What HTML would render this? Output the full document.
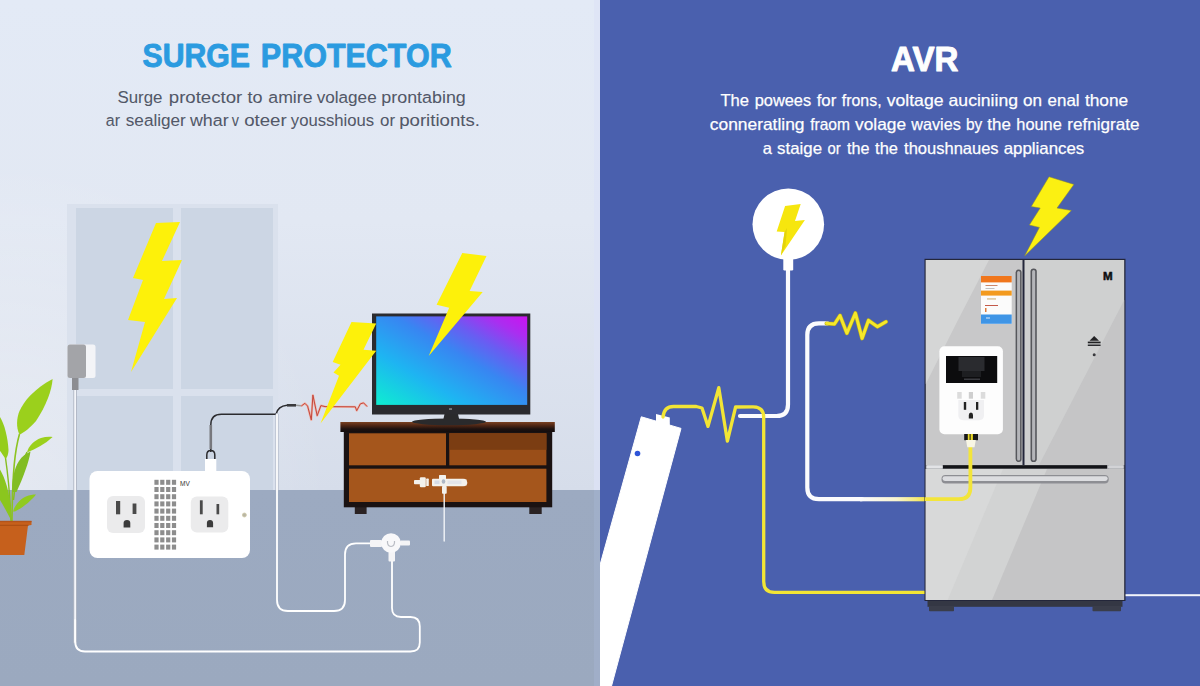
<!DOCTYPE html>
<html lang="en">
<head>
<meta charset="utf-8">
<title>Surge Protector vs AVR</title>
<style>
html,body{margin:0;padding:0;background:#e3e9f3;}
body{width:1200px;height:686px;overflow:hidden;font-family:"Liberation Sans",sans-serif;}
svg{display:block;}
.t{font-family:"Liberation Sans",sans-serif;}
</style>
</head>
<body>
<svg width="1200" height="686" viewBox="0 0 1200 686">
<defs>
  <linearGradient id="wall" x1="0" y1="0" x2="0" y2="1">
    <stop offset="0" stop-color="#e3eaf6"/>
    <stop offset="0.45" stop-color="#e2e8f3"/>
    <stop offset="1" stop-color="#d6ddea"/>
  </linearGradient>
  <linearGradient id="floor" x1="0" y1="0" x2="0" y2="1">
    <stop offset="0" stop-color="#9caac1"/>
    <stop offset="1" stop-color="#9ba9bf"/>
  </linearGradient>
  <linearGradient id="tv" x1="0" y1="1" x2="1" y2="0">
    <stop offset="0" stop-color="#0eeed0"/>
    <stop offset="0.3" stop-color="#1eb4f2"/>
    <stop offset="0.56" stop-color="#3886f2"/>
    <stop offset="0.72" stop-color="#6a5cf2"/>
    <stop offset="0.87" stop-color="#aa2ef0"/>
    <stop offset="1" stop-color="#cc12f0"/>
  </linearGradient>
  <linearGradient id="cabtop" x1="0" y1="0" x2="0" y2="1">
    <stop offset="0" stop-color="#7a4122"/>
    <stop offset="0.35" stop-color="#4e2615"/>
    <stop offset="0.7" stop-color="#1e1210"/>
    <stop offset="1" stop-color="#140d0d"/>
  </linearGradient>
  <linearGradient id="cab2y" x1="860" y1="0" x2="926" y2="0" gradientUnits="userSpaceOnUse">
    <stop offset="0" stop-color="#fbfbfd"/>
    <stop offset="0.55" stop-color="#f8f4cf"/>
    <stop offset="0.85" stop-color="#f5ea7a"/>
    <stop offset="1" stop-color="#f3e53a"/>
  </linearGradient>
  <linearGradient id="steel" x1="0" y1="0" x2="1" y2="0">
    <stop offset="0" stop-color="#c4c4c6"/>
    <stop offset="0.5" stop-color="#bdbdbf"/>
    <stop offset="1" stop-color="#b4b4b7"/>
  </linearGradient>
  <linearGradient id="steelL" x1="0" y1="0" x2="1" y2="0">
    <stop offset="0" stop-color="#c9c9cc"/>
    <stop offset="1" stop-color="#cbcbce"/>
  </linearGradient>
  <linearGradient id="steelR" x1="0" y1="0" x2="1" y2="0">
    <stop offset="0" stop-color="#cdcdd0"/>
    <stop offset="1" stop-color="#c9c9cc"/>
  </linearGradient>
  <linearGradient id="steelB" x1="0" y1="0" x2="1" y2="0">
    <stop offset="0" stop-color="#d2d2d4"/>
    <stop offset="0.5" stop-color="#cccccf"/>
    <stop offset="1" stop-color="#c3c3c6"/>
  </linearGradient>
  <radialGradient id="wallL" cx="0" cy="490" r="330" gradientUnits="userSpaceOnUse">
    <stop offset="0" stop-color="#ffffff" stop-opacity="0.34"/>
    <stop offset="0.35" stop-color="#ffffff" stop-opacity="0.26"/>
    <stop offset="1" stop-color="#ffffff" stop-opacity="0"/>
  </radialGradient>
  <clipPath id="rclip"><rect x="600" y="0" width="600" height="686"/></clipPath>
</defs>

<!-- LEFT PANEL -->
<g id="left">
  <rect x="0" y="0" width="600" height="491" fill="url(#wall)"/>
  <rect x="0" y="0" width="600" height="491" fill="url(#wallL)"/>
  <rect x="0" y="490" width="600" height="196" fill="url(#floor)"/>
  <rect x="594" y="0" width="6" height="490" fill="#dde3f6" opacity="0.700"/>
  <rect x="594" y="490" width="6" height="196" fill="#a3b0cc" opacity="0.700"/>
  <!-- window -->
  <g id="window">
    <rect x="67" y="204" width="211" height="286" fill="#dae1ed"/>
    <rect x="76" y="208" width="97" height="181" fill="#ccd6e4"/>
    <rect x="181" y="208" width="92" height="181" fill="#ccd6e4"/>
    <rect x="76" y="396" width="97" height="94" fill="#ccd6e4"/>
    <rect x="181" y="396" width="92" height="94" fill="#ccd6e4"/>
  </g>

  <!-- bolt 1 -->
  <polygon points="156,223 180,222 162,261 182,260 164,299 177,298 131,372 145,322 128,320 143,280 133,278" fill="#fdf10a"/>
  <!-- adapter -->
  <g id="adapter">
    <rect x="73.8" y="388" width="2.6" height="255" fill="#f4f6fa" stroke="#a9b0bd" stroke-width="0.8"/>
    <rect x="67.5" y="344.5" width="28" height="33.5" rx="2.5" fill="#f3f4f7"/>
    <rect x="67.5" y="344.5" width="18.5" height="33.5" rx="2.5" fill="#a3a4a8"/>
    <rect x="72" y="378" width="6.5" height="12" fill="#8c8d92"/>
  </g>
  <!-- plant -->
  <g id="plant">
    <path d="M19.500,434 C15,450 12.500,470 12,521" stroke="#8dc321" stroke-width="1.600" fill="none"/>
    <path d="M27,452 C20,465 15,480 13.500,500" stroke="#86bd20" stroke-width="1.400" fill="none"/>
    <path d="M5.500,458 C8,475 10,495 11,521" stroke="#86bd20" stroke-width="1.400" fill="none"/>
    <path d="M0,417 C4.500,424 8,438 8.500,450 C8.500,454 7,458 5.500,459 C3,455 1,452 0,451 Z" fill="#95cd1c"/>
    <path d="M52.600,379 C52,390 46,406 36,421 C30,428 24,432.500 19.500,434.500 C16,428 16.500,418 19.500,411 C24,401 34,389 52.600,379 Z" fill="#9bd01c"/>
    <path d="M52.600,437 C45,444 36,449 27,452.500 C28.500,446 34,440.500 41,438 C45,436.800 49,436.500 52.600,437 Z" fill="#9bd01c"/>
    <path d="M30.500,451.600 C29,462 23,478 16.500,492 L12.500,492 C11.500,482 14,468 19,461 C22,456.500 26,453.500 30.500,451.600 Z" fill="#82bd22"/>
    <path d="M0,469.500 C5,478 9.500,492 11,509 L11,520 C7,512 3,505 0,500 Z" fill="#8bc61e"/>
    <path d="M36,494.500 C31,501 23,507.500 15,511.500 L13,511.500 C15,505 20,499 26,496.500 C29.500,495 33,494.500 36,494.500 Z" fill="#90ca20"/>
    <path d="M0,521 L31.500,521 L31.500,525 L28,525.500 L24.300,555 L0,555 Z" fill="#c6601c"/>
    <rect x="0" y="520.800" width="31.500" height="1.400" fill="#b4541a"/>
    <rect x="0" y="524.800" width="28.500" height="1" fill="#a84c12"/>
  </g>
  <!-- dark cable from strip -->
  <g id="darkcable" fill="none">
    <path d="M210.800,452 L210.800,425 Q210.800,414.300 221.500,414.300 L276,414.300 Q278,406 287,405.300 L296,405.300" stroke="#2b2b2e" stroke-width="1.500"/>
    <path d="M210.800,425 L210.800,449" stroke="#77787d" stroke-width="2.600"/>
    <path d="M287,405.300 L296,405.300" stroke="#3a3a3d" stroke-width="2.600"/>
    <path d="M296,405.300 L301,405.800" stroke="#9a9a9a" stroke-width="1.500"/>
    <path d="M206.800,459 L206.800,455 Q206.800,450.500 210.800,450.500 Q214.800,450.500 214.800,455 L214.800,459" stroke="#2b2b2e" stroke-width="1.500"/>
  </g>
  <!-- red zigzag -->
  <polyline points="301.2,406.1 304.9,403.3 307.6,406.1 311.3,419.9 312.9,395.1 317.2,415.7 320.9,405.6 325,406.6 355.3,406.8 356.7,410.7 360.4,403.8 363.6,402.9 367.2,406.6" fill="none" stroke="#f2a897" stroke-width="2.200" stroke-linejoin="round" opacity="0.800"/>
  <polyline points="301.2,406.1 304.9,403.3 307.6,406.1 311.3,419.9 312.9,395.1 317.2,415.7 320.9,405.6 325,406.6 355.3,406.8 356.7,410.7 360.4,403.8 363.6,402.9 367.2,406.6" fill="none" stroke="#c4473c" stroke-width="1" stroke-linejoin="round"/>
  <!-- power strip -->
  <g id="strip">
    <rect x="205" y="459" width="11.300" height="14" fill="#ffffff"/>
    <rect x="89.500" y="471" width="160.500" height="87" rx="8" fill="#ffffff"/>
    <rect x="107" y="496" width="38" height="37" rx="6" fill="#ebebec"/>
    <rect x="190.800" y="496.500" width="37.500" height="36" rx="6" fill="#ebebec"/>
    <rect x="116" y="501" width="4.200" height="13.300" fill="#4a4a4a"/>
    <rect x="132.600" y="503.500" width="3.800" height="10.500" fill="#4a4a4a"/>
    <path d="M123.600,527.600 L123.600,523 Q123.600,520 127,520 Q130.300,520 130.300,523 L130.300,527.600 Z" fill="#3c3c3c"/>
    <rect x="199.900" y="500.300" width="2.800" height="14" fill="#4a4a4a"/>
    <rect x="216.500" y="504" width="2.700" height="10.300" fill="#4a4a4a"/>
    <path d="M206.900,527.200 L206.900,523 Q206.900,520 210,520 Q213.100,520 213.100,523 L213.100,527.200 Z" fill="#3c3c3c"/>
    <g fill="#8d8d8d">
      <rect x="154.4" y="479.8" width="4.2" height="5"/>
      <rect x="160.2" y="479.8" width="4.2" height="5"/>
      <rect x="166.1" y="479.8" width="4.2" height="5"/>
      <rect x="171.9" y="479.8" width="4.2" height="5"/>
      <rect x="154.4" y="487.0" width="4.2" height="5"/>
      <rect x="160.2" y="487.0" width="4.2" height="5"/>
      <rect x="166.1" y="487.0" width="4.2" height="5"/>
      <rect x="171.9" y="487.0" width="4.2" height="5"/>
      <rect x="154.4" y="494.2" width="4.2" height="5"/>
      <rect x="160.2" y="494.2" width="4.2" height="5"/>
      <rect x="166.1" y="494.2" width="4.2" height="5"/>
      <rect x="171.9" y="494.2" width="4.2" height="5"/>
      <rect x="154.4" y="501.4" width="4.2" height="5"/>
      <rect x="160.2" y="501.4" width="4.2" height="5"/>
      <rect x="166.1" y="501.4" width="4.2" height="5"/>
      <rect x="171.9" y="501.4" width="4.2" height="5"/>
      <rect x="154.4" y="508.6" width="4.2" height="5"/>
      <rect x="160.2" y="508.6" width="4.2" height="5"/>
      <rect x="166.1" y="508.6" width="4.2" height="5"/>
      <rect x="171.9" y="508.6" width="4.2" height="5"/>
      <rect x="154.4" y="515.8" width="4.2" height="5"/>
      <rect x="160.2" y="515.8" width="4.2" height="5"/>
      <rect x="166.1" y="515.8" width="4.2" height="5"/>
      <rect x="171.9" y="515.8" width="4.2" height="5"/>
      <rect x="154.4" y="523.0" width="4.2" height="5"/>
      <rect x="160.2" y="523.0" width="4.2" height="5"/>
      <rect x="166.1" y="523.0" width="4.2" height="5"/>
      <rect x="171.9" y="523.0" width="4.2" height="5"/>
      <rect x="154.4" y="530.2" width="4.2" height="5"/>
      <rect x="160.2" y="530.2" width="4.2" height="5"/>
      <rect x="166.1" y="530.2" width="4.2" height="5"/>
      <rect x="171.9" y="530.2" width="4.2" height="5"/>
      <rect x="154.4" y="537.4" width="4.2" height="5"/>
      <rect x="160.2" y="537.4" width="4.2" height="5"/>
      <rect x="166.1" y="537.4" width="4.2" height="5"/>
      <rect x="171.9" y="537.4" width="4.2" height="5"/>
      <rect x="154.4" y="544.6" width="4.2" height="5"/>
      <rect x="160.2" y="544.6" width="4.2" height="5"/>
      <rect x="166.1" y="544.6" width="4.2" height="5"/>
      <rect x="171.9" y="544.6" width="4.2" height="5"/>
    </g>
    <text x="180" y="485.600" font-size="6.500" fill="#333" class="t" textLength="9.800" lengthAdjust="spacingAndGlyphs">MV</text>
    <circle cx="244.400" cy="515" r="2" fill="#b9b6a5" stroke="#cfc9a8" stroke-width="0.800"/>
  </g>
  <!-- cabinet -->
  <g id="cabinet">
    <rect x="354.800" y="506" width="11.800" height="8" fill="#2a2223"/>
    <rect x="529.300" y="506" width="12.400" height="8" fill="#2a2223"/>
    <rect x="343.800" y="430" width="208.400" height="77.300" fill="#1a1212"/>
    <rect x="340.400" y="422" width="214.400" height="10" fill="url(#cabtop)"/>
    <rect x="349" y="433.300" width="97" height="32" fill="#a5561c"/>
    <rect x="449.300" y="433.300" width="97.100" height="32" fill="#9a4e18"/>
    <rect x="449.300" y="433.300" width="97.100" height="16.500" fill="#7b3d12"/>
    <rect x="349" y="468.700" width="197.400" height="33.300" fill="#a5561c"/>
    <!-- handle -->
    <g fill="#f3f1ec">
      <rect x="414" y="480" width="7" height="4.200" rx="0.800"/>
      <rect x="419.800" y="477.300" width="6" height="10" rx="1.200"/>
      <rect x="426.200" y="478.600" width="2.600" height="7.400" rx="0.600"/>
      <rect x="432" y="478.700" width="32.500" height="7.600" rx="1"/>
      <path d="M464,478.700 L466.500,479.500 Q468,482.500 466.500,485.500 L464,486.300 Z"/>
      <rect x="439" y="475" width="7" height="5" rx="0.600"/>
      <rect x="442" y="486" width="4.700" height="7.800" rx="0.800"/>
    </g>
    <ellipse cx="443.500" cy="481.500" rx="1.800" ry="2.300" fill="#aeb8c6"/>
    <rect x="434.500" y="480.500" width="5" height="3.600" fill="#d5dbe6"/>
    <rect x="447.500" y="480.500" width="14" height="3.600" fill="#e3e5ea"/>
  </g>
  <!-- TV -->
  <g id="tvset">
    <ellipse cx="449" cy="421.800" rx="37" ry="3.400" fill="#2a2a2c"/>
    <path d="M444.500,414 L458,414 L459.500,421 L443,421 Z" fill="#2a2a2c"/>
    <rect x="372" y="313.500" width="158.300" height="101" fill="#2b2b2f"/>
    <rect x="376.200" y="316.400" width="151" height="88.500" fill="url(#tv)"/>
    <rect x="449" y="408.300" width="3" height="1.500" fill="#8a8a8a"/>
  </g>
  <!-- bolts 2 and 3 -->
  <polygon points="462.300,253 486.500,256 469.600,291 482.700,292 428.700,356 449.200,307.700 436.600,304.700" fill="#fdf10a"/>
  <polygon points="351.500,322 376.200,323.500 363.500,349.800 376.200,350.800 320.500,423.500 339,375.700 333.500,372.400 340.500,364.700 332.700,361.900" fill="#fdf10a"/>
  <!-- floor cables -->
  <g id="floorcables" fill="none" stroke-linecap="round">
    <path d="M444.200,493 L444.200,541" stroke="#f1f4f8" stroke-width="1.400"/>
    <path d="M277,414.500 L277,490" stroke="#a7b0c0" stroke-width="3"/>
    <path d="M277,414.500 L277,600 Q277,611 288,611 L334,611 Q345,611 345,600 L345,554.500 Q345,543.300 356,543.300 L371,543.300" stroke="#ffffff" stroke-width="1.800"/>
    <path d="M392,560 L392,608 Q392,617 401,617 L410.500,617 Q419.800,617 419.800,626.500 L419.800,642.500 Q419.800,651.500 410.500,651.500 L85,651.500 Q75.200,651.500 75.200,641.500 L75.200,620" stroke="#ffffff" stroke-width="1.800"/>
  </g>
  <!-- splitter -->
  <g id="splitter">
    <rect x="370" y="540" width="12" height="7" rx="1" fill="#f4f4f6"/>
    <rect x="400" y="540.500" width="10" height="5" rx="1" fill="#f4f4f6"/>
    <rect x="388.500" y="551" width="6.500" height="10.500" rx="1" fill="#f4f4f6"/>
    <circle cx="391" cy="543" r="9.800" fill="#f8f8fa"/>
    <path d="M387.500,541 Q387,546 391,546.500 Q395,546 394.500,541" fill="none" stroke="#b9bcc4" stroke-width="1.200"/>
  </g>
</g>

<!-- RIGHT PANEL -->
<g id="right">
  <rect x="600" y="0" width="600" height="686" fill="#4a60ae"/>

  <!-- white line right -->
  <rect x="1125" y="594.200" width="75" height="2" fill="#f2f4fa"/>
  <!-- tube -->
  <g id="tube" clip-path="url(#rclip)">
    <polygon points="641.300,416.800 681,428.400 611.500,686 600,686 600,565" fill="#ffffff" stroke="#ffffff" stroke-width="1" stroke-linejoin="round"/>
    <polygon points="656,414 669.800,417.500 669.800,426 656,422" fill="#ffffff"/>
    <circle cx="637.500" cy="453.500" r="2.800" fill="#2f55d8"/>
  </g>
  <!-- cables -->
  <g id="rcables" fill="none" stroke-linejoin="round" stroke-linecap="round">
    <path d="M788,268 L788,404.500 Q788,416 776.500,416 L740,416" stroke="#fbfbfd" stroke-width="4.200"/>
    <path d="M827.500,323.400 L819,323.400 Q807.300,323.400 807.300,335 L807.300,487.500 Q807.300,499.200 819,499.200 L862,499.200" stroke="#fbfbfd" stroke-width="4.200"/>
    <rect x="860" y="497.100" width="66" height="4.200" fill="url(#cab2y)" stroke="none"/>
    <path d="M663,417 Q664,406.500 673.500,406.500 L696.300,406.500 L702,408 L708,426.400 L718.800,387.700 L727.400,441.200 L735.600,407 L753,406.800 Q763.700,406.800 763.700,417.500 L763.700,581.500 Q763.700,592.400 774.500,592.400 L925,592.400" stroke="#f2e535" stroke-width="3.300"/>
    <polyline points="826.500,323.400 834.500,324 840,315.500 846.900,333.200 855.400,313 862.100,338.400 868.500,320.300 877.300,326.700 886,321.800" stroke="#b9ad1e" stroke-width="4"/>
    <polyline points="826.500,323.400 834.500,324 840,315.500 846.900,333.200 855.400,313 862.100,338.400 868.500,320.300 877.300,326.700 886,321.800" stroke="#f5e82a" stroke-width="2.900"/>
  </g>
  <!-- circle bolt -->
  <g id="cbolt">
    <rect x="783.300" y="256" width="9.900" height="14.400" rx="1.200" fill="#ffffff"/>
    <circle cx="788.300" cy="224.200" r="35.800" fill="#ffffff"/>
    <polygon points="785.100,206 800.700,204 795,221 804.900,220.100 780.900,255.500 784.600,232 776.700,231.500" fill="#f6e60e"/>
    <polygon points="784.600,232 787,228 785.500,246 780.900,255.500" fill="#e3d30c"/>
  </g>
  <!-- bolt 4 -->
  <polygon points="1049,176.800 1073.900,184.400 1057,208.100 1071.400,210.500 1024.600,255.900 1039.400,227.400 1029.400,225 1040.200,208.100 1031.300,206.500" fill="#fbf012" stroke="#8f8c2a" stroke-width="0.500" stroke-linejoin="round"/>
  <!-- fridge -->
  <g id="fridge">
    <rect x="927.500" y="600" width="195" height="6.800" fill="#343744"/>
    <rect x="929" y="606" width="25" height="5.200" rx="0.800" fill="#3a3d4a"/>
    <rect x="1092.500" y="606" width="28.500" height="5.200" rx="0.800" fill="#3a3d4a"/>
    <rect x="924.500" y="258.800" width="201" height="342.200" fill="#23263a"/>
    <rect x="925.800" y="260" width="96.700" height="205" fill="#c8c8c9"/>
    <rect x="1024.500" y="260" width="99.700" height="205" fill="#cfd0d0"/>
    <rect x="925.800" y="469" width="198.400" height="131" fill="#c5c5c6"/>
    <rect x="925.800" y="465" width="198.400" height="4" fill="#9fa0a5"/>
    <rect x="943" y="465.200" width="164" height="3.400" fill="#131418"/>
    <rect x="926.500" y="465.300" width="16" height="3.200" rx="1.200" fill="#e2e3e6"/>
    <rect x="1108" y="465.300" width="15.500" height="3.200" rx="1.200" fill="#d2d3d6"/>
    <!-- reflections -->
    <polygon points="925.800,260 989,260 958,320 925.800,384" fill="#d5d6d6"/>
    <polygon points="1124.200,300 1124.200,465 1039,465" fill="#c5c5c6"/>
    <polygon points="925.800,469 1047,469 992,600 925.800,600" fill="#d2d3d3"/>
    <polygon points="925.800,469 1003,469 947.600,600 925.800,600" fill="#d8d9d9"/>
    <!-- handles -->
    <rect x="1015.600" y="269.500" width="6" height="192.500" rx="3" fill="#56575c"/>
    <rect x="1017.100" y="271" width="3" height="189.500" rx="1.500" fill="#b4b5b9"/>
    <rect x="1030.500" y="268.500" width="6.300" height="193.500" rx="3.100" fill="#56575c"/>
    <rect x="1032.100" y="270" width="3.100" height="190.500" rx="1.500" fill="#b4b5b9"/>
    <rect x="941.500" y="475" width="167.200" height="8.500" rx="4" fill="#8d8e93"/>
    <rect x="942.500" y="476.200" width="165.200" height="4.800" rx="2.400" fill="#dcdde0"/>
    <!-- sticker -->
    <rect x="981" y="276" width="30.700" height="48" fill="#fbfbfb"/>
    <rect x="981" y="276" width="30.700" height="6.400" fill="#f0761c"/>
    <rect x="981" y="290.600" width="30.700" height="5" fill="#f39a1e"/>
    <rect x="981" y="314.500" width="30.700" height="9.300" fill="#3f95e6"/>
    <rect x="985.500" y="285" width="12" height="0.900" fill="#c77a5a"/>
    <rect x="985.500" y="288" width="9" height="0.900" fill="#b9b9b9"/>
    <rect x="987" y="298.500" width="9" height="0.900" fill="#c9a35a"/>
    <rect x="985" y="305" width="13" height="1" fill="#c45a4a"/>
    <rect x="985" y="308" width="1.500" height="4" fill="#e07a3a"/>
    <rect x="986" y="317.500" width="4" height="1" fill="#dfeaf8"/>
    <!-- logo -->
    <text x="1103" y="279.600" font-size="10.600" font-weight="700" fill="#0e0e10" stroke="#0e0e10" stroke-width="0.500" class="t" textLength="9.600" lengthAdjust="spacingAndGlyphs">M</text>
    <!-- icon -->
    <path d="M1089.500,340.800 L1094.200,336 L1099,340.800 Z" fill="#222224"/>
    <rect x="1087.800" y="341.600" width="12.800" height="1.700" fill="#222224"/>
    <rect x="1087.800" y="344.500" width="12.800" height="1.500" fill="#2c2c30"/>
    <circle cx="1094.200" cy="354.800" r="1.500" fill="#3a3a3e"/>
    <!-- AVR panel -->
    <rect x="939.400" y="346.200" width="63.500" height="88" rx="5" fill="#fdfdfd"/>
    <rect x="946" y="356" width="51.200" height="27" fill="#0c0c0e"/>
    <rect x="958.500" y="357" width="26" height="14" fill="#2a2b2f"/>
    <rect x="962" y="371" width="19" height="6" fill="#1d1e21"/>
    <rect x="964" y="378.500" width="16" height="1.500" fill="#3a3b40"/>
    <rect x="957.200" y="392" width="4.500" height="6.700" fill="#dcdcdc"/>
    <rect x="968.800" y="392" width="4.200" height="6.700" fill="#cfcfcf"/>
    <rect x="980.800" y="392" width="4.500" height="6.700" fill="#dcdcdc"/>
    <path d="M958.300,400 L984,400 L984,415 Q984,420.200 979,420.200 L963.300,420.200 Q958.300,420.200 958.300,415 Z" fill="#f0f0f2"/>
    <rect x="963.800" y="402" width="2.400" height="7.800" fill="#222"/>
    <rect x="976" y="402" width="2.300" height="7.800" fill="#222"/>
    <path d="M968.800,418.400 L968.800,415 Q968.800,412.400 971,412.400 Q973,412.400 973,415 L973,418.400 Z" fill="#222"/>
    <path d="M925,499.200 L959,499.200 Q970.400,499.200 970.400,487.500 L970.400,446" stroke="#f3e53a" stroke-width="3.800" fill="none"/>
    <!-- plug -->
    <rect x="964.200" y="434" width="13.800" height="6.200" fill="#17171a"/>
    <rect x="967.800" y="434" width="1.800" height="6.200" fill="#e9d92a"/>
    <rect x="970.600" y="434" width="2.300" height="6.200" fill="#e9d92a"/>
    <path d="M966,440 L975.800,440 L974.500,447.200 L967.300,447.200 Z" fill="#f8f6e4"/>
  </g>
</g>

<!-- TEXT -->
<g id="text" class="t" opacity="0.995">
  <text y="67" font-size="33" fill="#2b9be0" stroke="#2b9be0" stroke-width="0.9" stroke-linejoin="round" font-weight="700"><tspan x="142.5" textLength="107.5" lengthAdjust="spacingAndGlyphs">SURGE</tspan> <tspan x="260.8" textLength="190.9" lengthAdjust="spacingAndGlyphs">PROTECTOR</tspan></text>
  <text y="102.8" font-size="16.3" fill="#525868" stroke="#525868" stroke-width="0.05" stroke-linejoin="round"><tspan x="117.5" textLength="45.0" lengthAdjust="spacingAndGlyphs">Surge</tspan> <tspan x="168.8" textLength="73.4" lengthAdjust="spacingAndGlyphs">protector</tspan> <tspan x="247.5" textLength="15.0" lengthAdjust="spacingAndGlyphs">to</tspan> <tspan x="268.3" textLength="44.2" lengthAdjust="spacingAndGlyphs">amire</tspan> <tspan x="316.7" textLength="60.0" lengthAdjust="spacingAndGlyphs">volagee</tspan> <tspan x="381.3" textLength="84.5" lengthAdjust="spacingAndGlyphs">prontabing</tspan></text>
  <text y="125.5" font-size="16.3" fill="#525868" stroke="#525868" stroke-width="0.05" stroke-linejoin="round"><tspan x="105.8" textLength="14.2" lengthAdjust="spacingAndGlyphs">ar</tspan> <tspan x="125.8" textLength="60.0" lengthAdjust="spacingAndGlyphs">sealiger</tspan> <tspan x="190.0" textLength="38.6" lengthAdjust="spacingAndGlyphs">whar</tspan> <tspan x="231.8" textLength="7.2" lengthAdjust="spacingAndGlyphs">v</tspan> <tspan x="244.2" textLength="42.5" lengthAdjust="spacingAndGlyphs">oteer</tspan> <tspan x="290.8" textLength="83.4" lengthAdjust="spacingAndGlyphs">yousshious</tspan> <tspan x="380.0" textLength="15.0" lengthAdjust="spacingAndGlyphs">or</tspan> <tspan x="399.2" textLength="80.8" lengthAdjust="spacingAndGlyphs">poritionts.</tspan></text>
  <text y="70.8" font-size="35" fill="#ffffff" stroke="#ffffff" stroke-width="1" stroke-linejoin="round" font-weight="700"><tspan x="891.0" textLength="67.4" lengthAdjust="spacingAndGlyphs">AVR</tspan></text>
  <text y="106" font-size="16.5" fill="#ffffff" stroke="#ffffff" stroke-width="0.25" stroke-linejoin="round"><tspan x="720.4" textLength="28.6" lengthAdjust="spacingAndGlyphs">The</tspan> <tspan x="754.7" textLength="56.5" lengthAdjust="spacingAndGlyphs">powees</tspan> <tspan x="816.7" textLength="19.6" lengthAdjust="spacingAndGlyphs">for</tspan> <tspan x="841.8" textLength="39.8" lengthAdjust="spacingAndGlyphs">frons,</tspan> <tspan x="886.7" textLength="56.8" lengthAdjust="spacingAndGlyphs">voltage</tspan> <tspan x="948.6" textLength="69.4" lengthAdjust="spacingAndGlyphs">auciniing</tspan> <tspan x="1023.0" textLength="19.0" lengthAdjust="spacingAndGlyphs">on</tspan> <tspan x="1047.6" textLength="32.0" lengthAdjust="spacingAndGlyphs">enal</tspan> <tspan x="1084.9" textLength="43.3" lengthAdjust="spacingAndGlyphs">thone</tspan></text>
  <text y="130" font-size="16.5" fill="#ffffff" stroke="#ffffff" stroke-width="0.25" stroke-linejoin="round"><tspan x="709.8" textLength="94.7" lengthAdjust="spacingAndGlyphs">conneratling</tspan> <tspan x="810.2" textLength="39.8" lengthAdjust="spacingAndGlyphs">fraom</tspan> <tspan x="855.1" textLength="51.0" lengthAdjust="spacingAndGlyphs">volage</tspan> <tspan x="911.2" textLength="49.6" lengthAdjust="spacingAndGlyphs">wavies</tspan> <tspan x="965.9" textLength="16.3" lengthAdjust="spacingAndGlyphs">by</tspan> <tspan x="987.3" textLength="23.5" lengthAdjust="spacingAndGlyphs">the</tspan> <tspan x="1016.3" textLength="45.5" lengthAdjust="spacingAndGlyphs">houne</tspan> <tspan x="1067.3" textLength="72.1" lengthAdjust="spacingAndGlyphs">refnigrate</tspan></text>
  <text y="154" font-size="16.5" fill="#ffffff" stroke="#ffffff" stroke-width="0.25" stroke-linejoin="round"><tspan x="762.8">a</tspan> <tspan x="777.1" textLength="44.9" lengthAdjust="spacingAndGlyphs">staige</tspan> <tspan x="827.6" textLength="13.2" lengthAdjust="spacingAndGlyphs">or</tspan> <tspan x="846.9" textLength="22.5" lengthAdjust="spacingAndGlyphs">the</tspan> <tspan x="875.1" textLength="22.9" lengthAdjust="spacingAndGlyphs">the</tspan> <tspan x="904.1" textLength="94.5" lengthAdjust="spacingAndGlyphs">thoushnaues</tspan> <tspan x="1003.7" textLength="80.6" lengthAdjust="spacingAndGlyphs">appliances</tspan></text>
</g>
</svg>
</body>
</html>
